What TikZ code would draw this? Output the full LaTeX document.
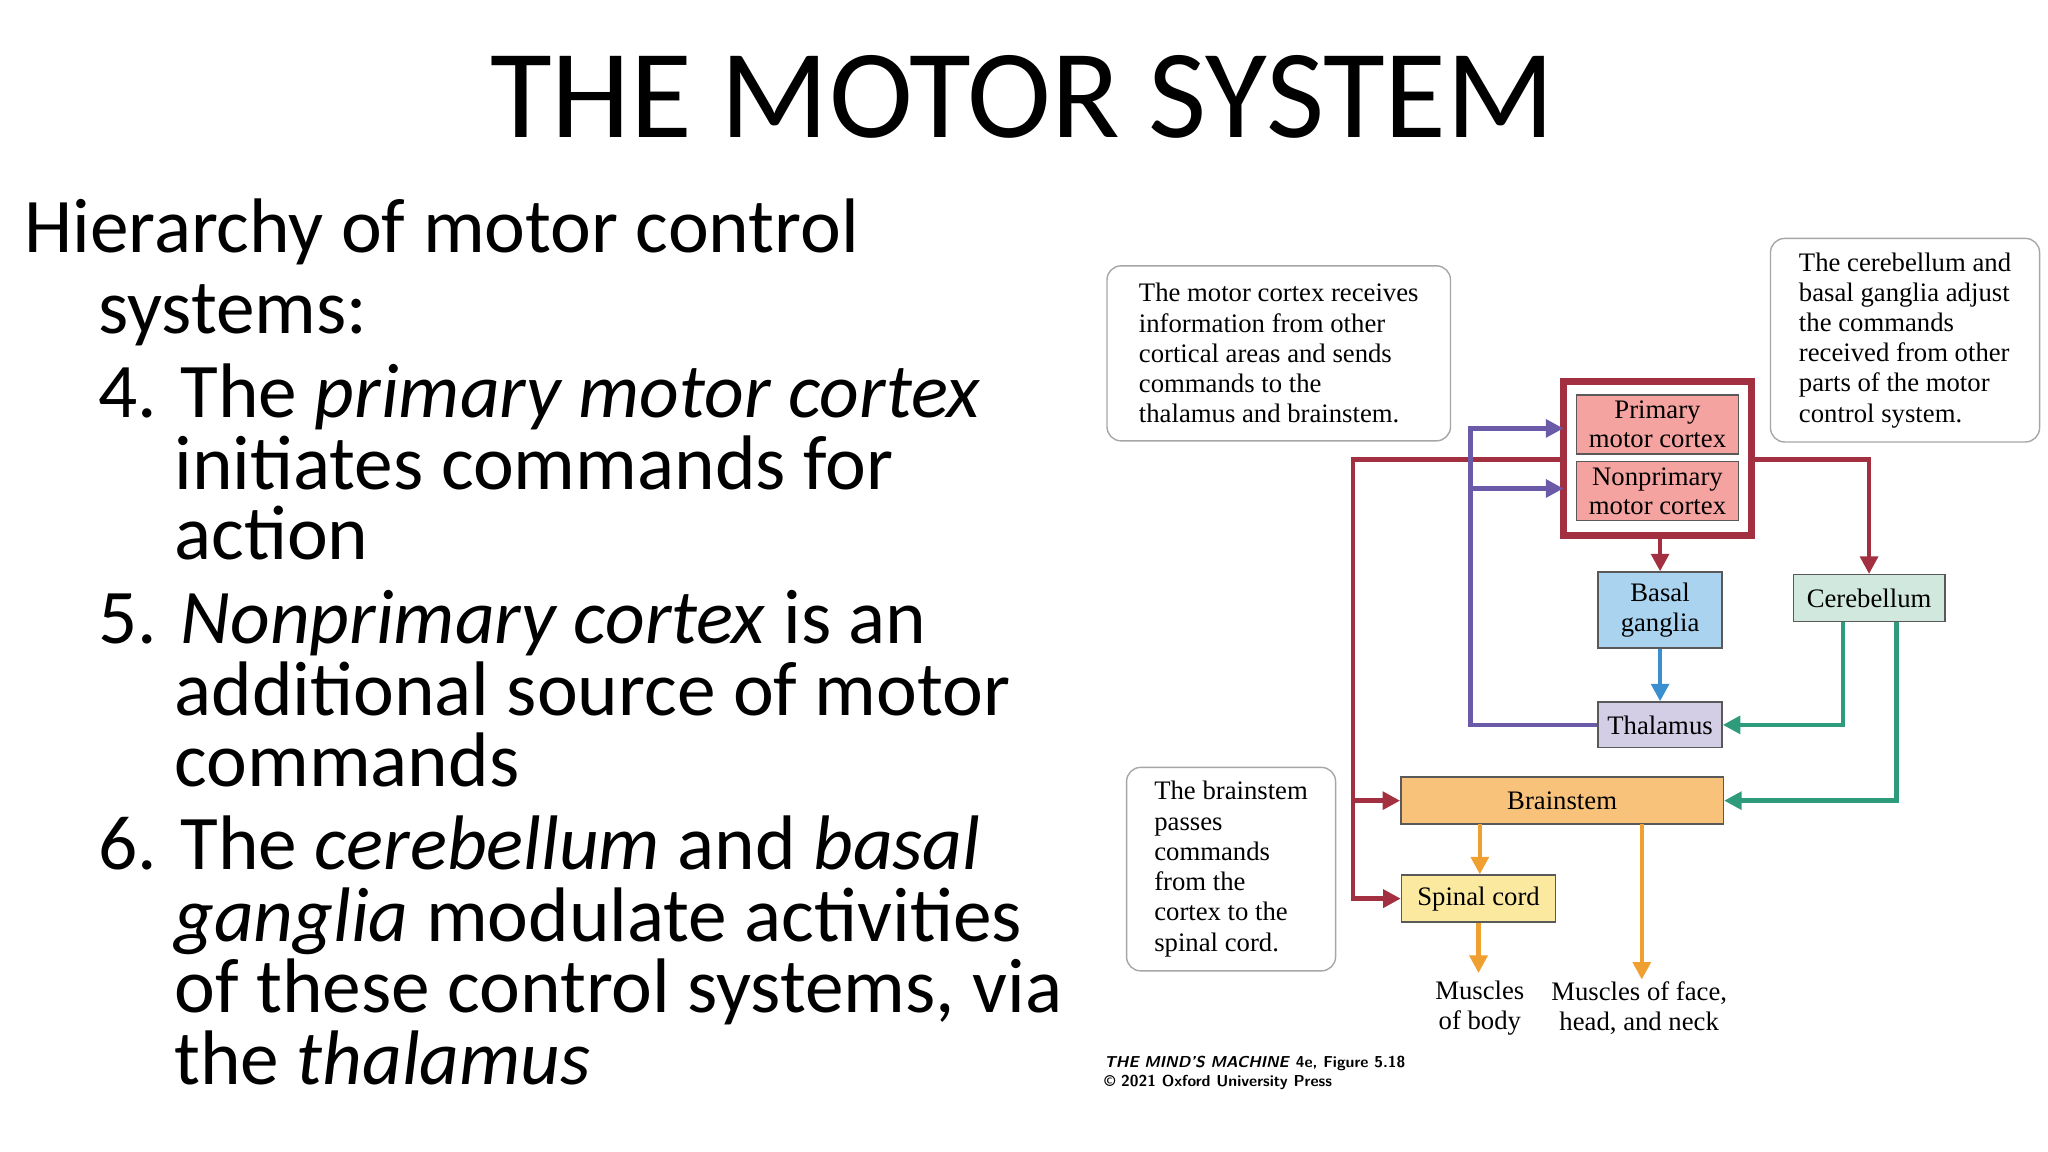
\documentclass[tikz,border=0pt]{standalone}
\usepackage{fontspec}
\setmainfont{Carlito}
\newfontfamily\figfont{Liberation Serif}
\usepackage{tikz}
\usetikzlibrary{arrows.meta}
\definecolor{cortexred}{HTML}{A33040}
\definecolor{thalpurple}{HTML}{6A5AA8}
\definecolor{cerebgreen}{HTML}{2E9B7A}
\definecolor{stemorange}{HTML}{F0A030}
\definecolor{basalblue}{HTML}{3A8FD0}
\definecolor{cortexfill}{HTML}{F4A3A0}
\definecolor{basalfill}{HTML}{A9D3EE}
\definecolor{cerebfill}{HTML}{D0E8DE}
\definecolor{thalfill}{HTML}{D4CDE6}
\definecolor{stemfill}{HTML}{F8C27A}
\definecolor{spinalfill}{HTML}{FBE9A0}
\tikzset{
	line/.style={anchor=base west,inner sep=0pt,font=\fontsize{22}{22}\selectfont},
	paint/.style={draw=gray!70!black, fill=#1, font=\figfont\fontsize{7.6}{8.4}\selectfont,
			inner sep=0pt, align=center},
	note/.style={draw=gray!70, rounded corners=4pt, fill=white, anchor=north west,
			font=\figfont\fontsize{7.6}{8.6}\selectfont, align=left, inner sep=4pt},
	path/.style={draw=#1, line width=1.3pt, -{Triangle[length=5pt,width=5pt]}}
}
\begin{document}
\begin{tikzpicture}[x=0.01306cm,y=-0.01306cm]
	\useasboundingbox (0,0) rectangle (1568,882);
	\node[anchor=base, font=\fontsize{36}{36}\selectfont] (title) at (783,105) {THE MOTOR SYSTEM};
	% bullet text
	\node[line] (l1) at (18,193) {Hierarchy of motor control};
	\node[line] (l2) at (75,255) {systems:};
	\node[line] (l3) at (75,320) {4. The \textit{primary motor cortex}};
	\node[line] (l4) at (133,375) {initiates commands for};
	\node[line] (l5) at (133,428) {action};
	\node[line] (l6) at (75,493) {5. \textit{Nonprimary cortex} is an};
	\node[line] (l7) at (133,548) {additional source of motor};
	\node[line] (l8) at (133,602) {commands};
	\node[line] (l9) at (75,666) {6. The \textit{cerebellum} and \textit{basal}};
	\node[line] (l10) at (133,721) {\textit{ganglia} modulate activities};
	\node[line] (l11) at (133,775) {of these control systems, via};
	\node[line] (l12) at (133,830) {the \textit{thalamus}};
	% figure notes
	\node[note, minimum width=263*0.01306cm, minimum height=134*0.01306cm] (cortexnote) at (847,203)
	{The motor cortex receives\\information from other\\cortical areas and sends\\commands to the\\thalamus and brainstem.};
	\node[note, minimum width=206*0.01306cm, minimum height=154*0.01306cm] (cerebnote) at (1355,182)
	{The cerebellum and\\basal ganglia adjust\\the commands\\received from other\\parts of the motor\\control system.};
	\node[note, minimum width=160*0.01306cm, minimum height=154*0.01306cm] (stemnote) at (862,587)
	{The brainstem\\passes\\commands\\from the\\cortex to the\\spinal cord.};
	% boxes
	\draw[cortexred, line width=2.2pt] (1197,292) rectangle (1341,410);
	\node[paint=cortexfill, minimum width=124*0.01306cm, minimum height=45*0.01306cm] (primary) at (1269,325) {Primary\\motor cortex};
	\node[paint=cortexfill, minimum width=124*0.01306cm, minimum height=45*0.01306cm] (nonprimary) at (1269,376) {Nonprimary\\motor cortex};
	\node[paint=basalfill, minimum width=95*0.01306cm, minimum height=58*0.01306cm] (basal) at (1271,467) {Basal\\ganglia};
	\node[paint=cerebfill, minimum width=116*0.01306cm, minimum height=36*0.01306cm] (cerebellum) at (1431,458) {Cerebellum};
	\node[paint=thalfill, minimum width=95*0.01306cm, minimum height=35*0.01306cm] (thalamus) at (1271,555) {Thalamus};
	\node[paint=stemfill, minimum width=247*0.01306cm, minimum height=36*0.01306cm] (brainstem) at (1196,613) {Brainstem};
	\node[paint=spinalfill, minimum width=118*0.01306cm, minimum height=36*0.01306cm] (spinal) at (1132,688) {Spinal cord};
	\node[font=\figfont\fontsize{7.6}{8.6}\selectfont, align=center] (mbody) at (1133,772) {Muscles\\of body};
	\node[font=\figfont\fontsize{7.6}{8.6}\selectfont, align=center] (mface) at (1255,772) {Muscles of face,\\head, and neck};
	\node[anchor=north west, font=\sffamily\bfseries\fontsize{4.5}{5.5}\selectfont, align=left, inner sep=0pt] (credit) at (845,808)
	{\textit{THE MIND'S MACHINE} 4e, Figure 5.18\\\textcopyright{} 2021 Oxford University Press};
	% connectors
	\draw[path=cortexred] (1197,352) -- (1036,352) |- (spinal.west);
	\draw[path=cortexred] (1036,613) -- (brainstem.west);
	\draw[path=cortexred] (1341,352) -| (cerebellum.north);
	\draw[path=cortexred] (1271,410) -- (basal.north);
	\draw[path=thalpurple] (thalamus.west) -| (1126,328) -- (1197,328);
	\draw[path=thalpurple] (1126,374) -- (1197,374);
	\draw[path=basalblue] (basal.south) -- (thalamus.north);
	\draw[path=cerebgreen] (1411,476) |- (thalamus.east);
	\draw[path=cerebgreen] (1452,476) |- (brainstem.east);
	\draw[path=stemorange] (1133,631) -- (spinal.north -| 1133,0);
	\draw[path=stemorange] (1257,631) -- (1257,750);
	\draw[path=stemorange] (spinal.south) -- (1132,745);
\end{tikzpicture}
\end{document}
